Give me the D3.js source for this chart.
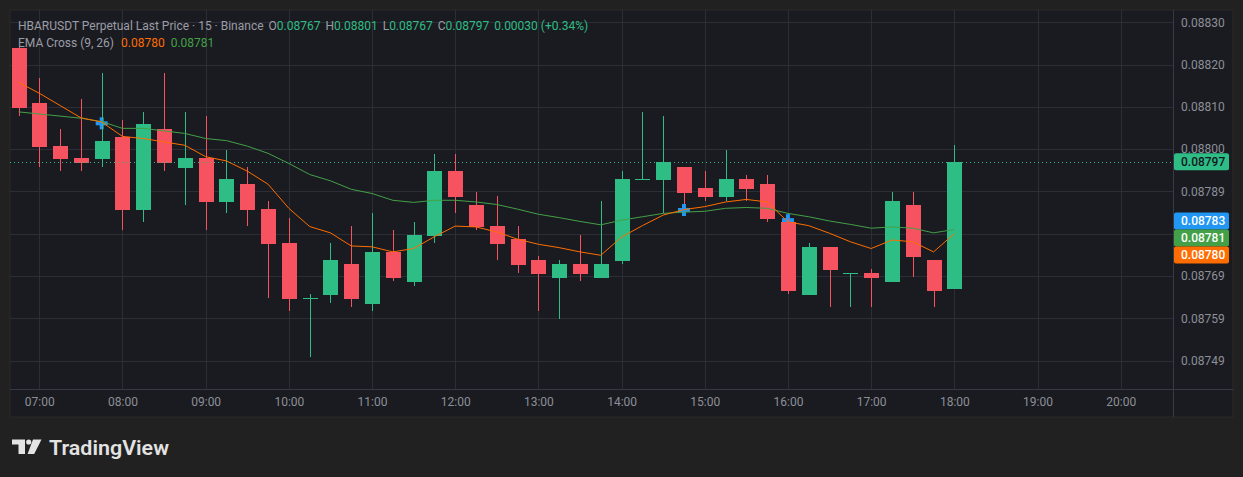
<!DOCTYPE html>
<html lang="en">
<head>
<meta charset="UTF-8">
<title>HBARUSDT Perpetual · 15 · Binance</title>
<script src="https://d3js.org/d3.v7.min.js"></script>
<style>
    body {
        margin: 0;
        background: #212121;
    }
    svg {
        display: block;
    }
    text {
        font-family: Roboto, "Noto Sans", Arial, sans-serif;
    }
</style>
</head>
<body>
<svg width="1243" height="477"></svg>
<script>
// --- data (15 min candles) ---
const times = ["06:45","07:00","07:15","07:30","07:45","08:00","08:15","08:30","08:45","09:00",
    "09:15","09:30","09:45","10:00","10:15","10:30","10:45","11:00","11:15","11:30",
    "11:45","12:00","12:15","12:30","12:45","13:00","13:15","13:30","13:45","14:00",
    "14:15","14:30","14:45","15:00","15:15","15:30","15:45","16:00","16:15","16:30",
    "16:45","17:00","17:15","17:30","17:45","18:00"];
const opens  = [0.088239,0.088109,0.088007,0.087979,0.087977,0.088028,0.087857,0.088047,0.087956,0.087979,
    0.087875,0.087917,0.087858,0.087778,0.087646,0.087655,0.087728,0.087634,0.087757,0.087686,
    0.087794,0.087948,0.087868,0.087818,0.087787,0.087738,0.087696,0.087728,0.087696,0.087736,
    0.087928,0.087927,0.087957,0.087908,0.087887,0.087929,0.087917,0.087827,0.087655,0.087768,
    0.087707,0.087707,0.087686,0.087868,0.087738,0.08767];
const highs  = [0.088241,0.088167,0.088047,0.088118,0.088180,0.088069,0.088087,0.088180,0.088087,0.088078,
    0.087998,0.087957,0.087877,0.087837,0.087657,0.087778,0.087818,0.087849,0.087809,0.087827,
    0.087988,0.087988,0.087898,0.087889,0.087818,0.087747,0.087738,0.087797,0.087877,0.087948,
    0.088087,0.088078,0.087957,0.087948,0.087998,0.087939,0.087939,0.087837,0.087778,0.087768,
    0.087707,0.087716,0.087898,0.087898,0.087738,0.08801];
const lows   = [0.088078,0.087958,0.087949,0.087949,0.087958,0.087809,0.087828,0.087949,0.087868,0.087809,
    0.087849,0.087818,0.087648,0.087618,0.087508,0.087636,0.087627,0.087617,0.087689,0.087676,
    0.087778,0.087849,0.087809,0.087738,0.087707,0.087617,0.087598,0.087689,0.087696,0.087729,
    0.087928,0.087849,0.087870,0.087877,0.087877,0.087877,0.087827,0.087657,0.087655,0.087627,
    0.087627,0.087627,0.087686,0.087698,0.087627,0.08767];
const closes = [0.088098,0.088005,0.087977,0.087968,0.088019,0.087857,0.088059,0.087968,0.087979,0.087875,
    0.087929,0.087857,0.087776,0.087646,0.087648,0.087738,0.087645,0.087757,0.087696,0.087796,
    0.087948,0.087887,0.087816,0.087775,0.087726,0.087705,0.087728,0.087705,0.087728,0.087929,
    0.087929,0.087969,0.087896,0.087887,0.087929,0.087905,0.087835,0.087664,0.087768,0.087715,
    0.087708,0.087696,0.087877,0.087745,0.087665,0.08797];
const ema9   = [0.088158,0.088132,0.088103,0.088074,0.088064,0.088030,0.088025,0.088017,0.088009,0.087982,
    0.087972,0.087948,0.087917,0.087860,0.087817,0.087802,0.087771,0.087769,0.087757,0.087765,
    0.087793,0.087818,0.087816,0.087804,0.087787,0.087775,0.087767,0.087757,0.087749,0.087792,
    0.087819,0.087844,0.087857,0.087864,0.087875,0.087881,0.087875,0.087828,0.087819,0.087801,
    0.087781,0.087765,0.087785,0.087781,0.087757,0.08780];
const ema26  = [0.088088,0.088083,0.088078,0.088073,0.088065,0.088049,0.088049,0.088043,0.088037,0.088025,
    0.088020,0.088007,0.087990,0.087966,0.087940,0.087925,0.087905,0.087895,0.087879,0.087874,
    0.087879,0.087879,0.087875,0.087869,0.087858,0.087846,0.087838,0.087829,0.087821,0.087832,
    0.087840,0.087848,0.087851,0.087853,0.087860,0.087862,0.087860,0.087848,0.087840,0.087830,
    0.087822,0.087813,0.087816,0.087813,0.087802,0.08781];
const crossTimes  = ["07:45","14:45","16:00"];
const crossValues = [0.088061,0.087856,0.087832];

// the 0.0878 line has its label covered by the price badges, so it gets no text
const priceTicks  = [0.0883,0.0882,0.0881,0.0880,0.0879,0.0878,0.0877,0.0876,0.0875];
const priceLabels = ["0.08830","0.08820","0.08810","0.08800","0.08789","","0.08769","0.08759","0.08749"];
const hourTicks   = ["07:00","08:00","09:00","10:00","11:00","12:00","13:00","14:00","15:00","16:00","17:00","18:00","19:00","20:00"];

const badgeValues = [0.08797,0.08783,0.08781,0.08780];
const badgeLabels = ["0.08797","0.08783","0.08781","0.08780"];
const badgeFills  = ["#2ebd85","#2196f3","#43a047","#ff6d00"];
const badgeInk    = ["#131722","#ffffff","#ffffff","#ffffff"];

// --- layout ---
const svg = d3.select("svg");
const padL = 10, padT = 10, plotRight = 1173, axisRight = 1233, plotBottom = 389, axisBottom = 417;
const up = "#2ebd85", down = "#f7525f";
const gridColor = "#2b2e36", lineColor = "#363a44", labelColor = "#8c8f98";

const parse = d3.timeParse("%H:%M");
const x = d3.scaleTime()
    .domain([parse("07:00"), parse("20:00")])
    .range([39.3, 1120.7]);
const y = d3.scaleLinear()
    .domain([0.0875, 0.0883])
    .range([360.6, 22.2]);

const candles = times.map((t, i) => ({
    t: parse(t), o: opens[i], h: highs[i], l: lows[i], c: closes[i]
}));

// panels
svg.append("rect").attr("x", padL).attr("y", padT)
    .attr("width", axisRight - padL).attr("height", axisBottom - padT)
    .attr("fill", "#1a1b20").attr("stroke", "#2a2a2a");

svg.append("clipPath").attr("id", "plot")
    .append("rect").attr("x", padL).attr("y", padT)
    .attr("width", plotRight - padL).attr("height", plotBottom - padT);

// grid
const grid = svg.append("g").attr("shape-rendering", "crispEdges");
grid.selectAll(".h").data(priceTicks).enter().append("line")
    .attr("x1", padL).attr("x2", plotRight)
    .attr("y1", d => Math.round(y(d)) + 0.5).attr("y2", d => Math.round(y(d)) + 0.5)
    .attr("stroke", gridColor);
grid.selectAll(".v").data(hourTicks).enter().append("line")
    .attr("x1", d => Math.round(x(parse(d))) + 0.5).attr("x2", d => Math.round(x(parse(d))) + 0.5)
    .attr("y1", padT).attr("y2", plotBottom)
    .attr("stroke", gridColor);

// separators
svg.append("line").attr("x1", plotRight + 0.5).attr("x2", plotRight + 0.5)
    .attr("y1", padT).attr("y2", axisBottom).attr("stroke", lineColor);
svg.append("line").attr("x1", padL).attr("x2", axisRight)
    .attr("y1", plotBottom + 0.5).attr("y2", plotBottom + 0.5).attr("stroke", lineColor);

const plot = svg.append("g").attr("clip-path", "url(#plot)");

// EMA cross markers
const cross = plot.append("g").attr("fill", "#2196f3");
crossTimes.forEach((t, i) => {
    const cx = x(parse(t)), cy = y(crossValues[i]);
    cross.append("rect").attr("x", cx - 6).attr("y", cy - 2).attr("width", 12).attr("height", 4);
    cross.append("rect").attr("x", cx - 2).attr("y", cy - 6).attr("width", 4).attr("height", 12);
});

// candles
const bodyW = 15;
const cg = plot.append("g").attr("shape-rendering", "crispEdges");
const candle = cg.selectAll("g").data(candles).enter().append("g");
candle.append("line")
    .attr("x1", d => Math.round(x(d.t)) + 0.5).attr("x2", d => Math.round(x(d.t)) + 0.5)
    .attr("y1", d => y(d.h)).attr("y2", d => y(d.l))
    .attr("stroke", d => d.c >= d.o ? up : down);
candle.append("rect")
    .attr("x", d => Math.round(x(d.t)) - 7)
    .attr("width", bodyW)
    .attr("y", d => y(Math.max(d.o, d.c)))
    .attr("height", d => Math.max(1, Math.abs(y(d.o) - y(d.c))))
    .attr("fill", d => d.c >= d.o ? up : down);

// EMA lines
const line = (vals) => d3.line()
    .x((d, i) => x(parse(times[i])))
    .y(d => y(d))(vals);
plot.append("path").attr("d", line(ema26)).attr("fill", "none")
    .attr("stroke", "#43a047").attr("stroke-width", 1);
plot.append("path").attr("d", line(ema9)).attr("fill", "none")
    .attr("stroke", "#ff6d00").attr("stroke-width", 1);

// last price line
plot.append("line")
    .attr("x1", padL).attr("x2", plotRight)
    .attr("y1", Math.round(y(closes[closes.length - 1])) + 0.5)
    .attr("y2", Math.round(y(closes[closes.length - 1])) + 0.5)
    .attr("stroke", up).attr("stroke-dasharray", "1,3");

// price axis
const yAxis = svg.append("g")
    .attr("transform", `translate(${plotRight},0)`)
    .call(d3.axisRight(y).tickValues(priceTicks)
        .tickFormat((d, i) => priceLabels[i]).tickSize(0).tickPadding(8));
yAxis.select(".domain").remove();
yAxis.selectAll("text").attr("fill", labelColor).attr("font-size", "12px")
    .attr("font-family", "Roboto, sans-serif");

// time axis
const xAxis = svg.append("g")
    .attr("transform", `translate(0,${plotBottom})`)
    .call(d3.axisBottom(x).tickValues(hourTicks.map(parse))
        .tickFormat(d3.timeFormat("%H:%M")).tickSize(0).tickPadding(8));
xAxis.select(".domain").remove();
xAxis.selectAll("text").attr("fill", labelColor).attr("font-size", "12px")
    .attr("font-family", "Roboto, sans-serif");

// price badges, stacked so they do not overlap
const badgeH = 17;
let prev = -Infinity;
const badgeY = badgeValues.map(v => {
    const c = Math.max(y(v), prev + badgeH);
    prev = c;
    return c;
});
const badge = svg.append("g").selectAll("g").data(badgeValues).enter().append("g")
    .attr("transform", (d, i) => `translate(${plotRight + 1},${badgeY[i] - badgeH / 2})`);
badge.append("rect").attr("width", 55).attr("height", badgeH).attr("rx", 2)
    .attr("fill", (d, i) => badgeFills[i]);
badge.append("text").attr("x", 7).attr("y", 12.5)
    .attr("font-size", "12px").attr("font-weight", 500)
    .attr("fill", (d, i) => badgeInk[i])
    .text((d, i) => badgeLabels[i]);

// legend
const legend = svg.append("g").attr("font-size", "12px");
const l1 = legend.append("text").attr("x", 18).attr("y", 29.5).attr("fill", "#9a9da6");
l1.append("tspan").text("HBARUSDT Perpetual Last Price · 15 · Binance");
[["O", "0.08767"], ["H", "0.08801"], ["L", "0.08767"], ["C", "0.08797"]].forEach(([k, v]) => {
    l1.append("tspan").attr("dx", 5).text(k);
    l1.append("tspan").attr("fill", up).text(v);
});
l1.append("tspan").attr("dx", 5).attr("fill", up).text("0.00030 (+0.34%)");

const l2 = legend.append("text").attr("x", 18).attr("y", 47).attr("fill", "#9a9da6");
l2.append("tspan").text("EMA Cross (9, 26)");
l2.append("tspan").attr("dx", 7).attr("fill", "#ff6d00").text("0.08780");
l2.append("tspan").attr("dx", 6).attr("fill", "#43a047").text("0.08781");

// TradingView logo
const logo = svg.append("g").attr("fill", "#e3e3e3");
logo.append("path").attr("d", "M12,439.5H25V454H18.5V444.5H12Z");
logo.append("circle").attr("cx", 28.7).attr("cy", 442).attr("r", 2.6);
logo.append("path").attr("d", "M33,439.5H41.5L34.2,454H27.6Z");
logo.append("text").attr("x", 49).attr("y", 454.5)
    .attr("font-family", "Inter, 'Open Sans', sans-serif")
    .attr("font-size", "20px").attr("font-weight", 600)
    .attr("textLength", 120).attr("lengthAdjust", "spacingAndGlyphs")
    .text("TradingView");
</script>
</body>
</html>
